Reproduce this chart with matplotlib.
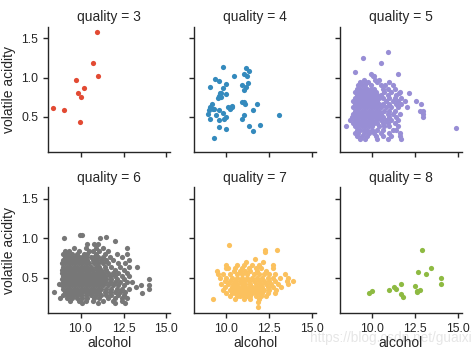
import matplotlib
matplotlib.use("Agg")
import matplotlib.pyplot as plt

plt.rcParams['font.family'] = ['Liberation Sans', 'DejaVu Sans']

qualities = [3, 4, 5, 6, 7, 8]
colors = ["#E24A33", "#348ABD", "#988ED5", "#777777", "#FBC15E", "#8EBA42"]

# quality 3
q3_alcohol = [10.93, 10.74, 11.03, 9.71, 10.21, 9.84, 10.0, 8.41, 9.03, 9.94]
q3_volatile = [1.58, 1.18, 1.015, 0.97, 0.87, 0.805, 0.755, 0.615, 0.585, 0.436]

# quality 4
q4_alcohol = [9.79, 11.14, 11.34, 10.47, 11.01, 11.18, 9.36, 9.55, 11.24, 9.07,
              9.98, 10.89, 11.14, 9.79, 11.01, 9.69, 9.98, 9.59, 9.49, 9.69,
              10.89, 11.09, 11.78, 9.17, 9.07, 10.08, 10.33, 10.23, 9.26, 9.01,
              9.55, 8.95, 11.53, 9.40, 9.98, 11.01, 13.04, 9.07, 9.59, 9.88,
              10.91, 9.55, 9.98, 11.34, 11.98, 11.53, 9.30, 10.2, 10.3, 9.2,
              9.6, 11.0, 9.8]
q4_volatile = [1.13, 1.117, 1.087, 1.015, 1.04, 1.015, 0.977, 0.955, 0.934, 0.88,
               0.913, 0.905, 0.883, 0.862, 0.84, 0.81, 0.786, 0.768, 0.735, 0.75,
               0.684, 0.67, 0.662, 0.67, 0.628, 0.624, 0.636, 0.607, 0.607, 0.585,
               0.594, 0.543, 0.585, 0.52, 0.50, 0.53, 0.52, 0.48, 0.458, 0.47,
               0.47, 0.372, 0.343, 0.385, 0.394, 0.32, 0.232, 0.615, 0.62, 0.60,
               0.80, 0.69, 0.55]

# quality 5: volatile acidity -> alcohol values read along that level
q5_rows = {
    1.33: [10.89],
    1.25: [9.48],
    1.18: [10.51],
    1.07: [9.0],
    1.04: [9.92, 11.49],
    1.02: [10.02, 10.1],
    0.97: [9.5, 10.15, 10.4],
    0.94: [9.3, 9.6, 9.75, 10.3, 11.0],
    0.90: [9.2, 9.4, 9.55, 9.9, 10.5, 10.75, 11.2],
    0.86: [9.1, 9.3, 9.5, 9.7, 9.9, 10.1, 10.6, 10.9, 11.3],
    0.82: [9.0, 9.2, 9.4, 9.6, 9.8, 10.0, 10.2, 10.7, 11.1, 11.6],
    0.80: [11.57, 12.15],
    0.78: [9.1, 9.3, 9.5, 9.7, 9.9, 10.1, 10.3, 10.5, 10.9, 11.4],
    0.74: [9.0, 9.2, 9.4, 9.6, 9.8, 10.0, 10.2, 10.4, 10.6, 11.0, 11.3, 11.7],
    0.70: [8.9, 9.1, 9.3, 9.5, 9.7, 9.9, 10.1, 10.3, 10.8, 11.2, 11.5, 11.9, 12.55],
    0.66: [9.0, 9.2, 9.4, 9.6, 9.8, 10.0, 10.2, 10.4, 10.6, 11.0, 11.4, 11.7, 12.85],
    0.62: [8.9, 9.1, 9.3, 9.5, 9.7, 9.9, 10.1, 10.3, 10.5, 10.8, 11.1, 11.5, 12.0],
    0.58: [9.0, 9.2, 9.4, 9.6, 9.8, 10.0, 10.2, 10.4, 10.7, 11.0, 11.3, 12.75, 12.95],
    0.54: [8.9, 9.1, 9.3, 9.5, 9.7, 9.9, 10.1, 10.3, 10.5, 10.9, 11.2, 11.6, 12.97],
    0.50: [8.8, 9.0, 9.2, 9.4, 9.6, 9.8, 10.0, 10.2, 10.4, 10.6, 11.0, 11.4, 12.97],
    0.46: [8.7, 9.0, 9.2, 9.4, 9.6, 9.8, 10.0, 10.2, 10.5, 10.8, 11.1, 11.5],
    0.42: [8.9, 9.1, 9.3, 9.5, 9.7, 9.9, 10.1, 10.3, 10.6, 10.9, 11.3],
    0.38: [8.47, 9.0, 9.2, 9.4, 9.6, 9.8, 10.0, 10.4, 10.7, 11.0, 11.5],
    0.36: [14.9],
    0.34: [9.1, 9.3, 9.5, 9.7, 10.0, 10.3, 10.6, 11.2, 11.4],
    0.30: [9.0, 9.2, 9.5, 9.8, 10.1, 10.5, 11.0, 11.6],
    0.26: [9.1, 9.4, 9.7, 10.2, 10.6, 11.1, 11.6],
    0.22: [9.3, 9.6, 10.3, 10.9, 11.7],
}

# quality 6
q6_rows = {
    1.04: [9.94, 10.1],
    1.02: [11.51],
    1.00: [9.03, 11.12],
    0.96: [12.0],
    0.92: [10.4, 10.8, 11.0],
    0.88: [9.6, 10.3, 10.9, 11.3, 12.7],
    0.84: [9.1, 9.3, 9.9, 10.5, 10.7, 11.1, 11.6],
    0.80: [9.0, 9.2, 9.5, 9.8, 10.2, 10.4, 10.9, 11.4, 12.1, 12.7],
    0.76: [9.1, 9.3, 9.5, 9.7, 9.9, 10.1, 10.3, 10.6, 10.8, 11.0, 11.3, 11.7, 12.4],
    0.72: [9.0, 9.2, 9.4, 9.6, 9.8, 10.0, 10.2, 10.4, 10.7, 10.9, 11.2, 11.5, 11.9, 12.8],
    0.68: [8.9, 9.1, 9.3, 9.5, 9.7, 9.9, 10.1, 10.3, 10.5, 10.8, 11.0, 11.3, 11.6, 12.2, 12.6],
    0.64: [9.0, 9.2, 9.4, 9.6, 9.8, 10.0, 10.2, 10.4, 10.6, 10.9, 11.1, 11.4, 11.8, 12.3, 12.8, 13.3],
    0.60: [8.9, 9.1, 9.3, 9.5, 9.7, 9.9, 10.1, 10.3, 10.5, 10.7, 11.0, 11.2, 11.5, 12.0, 12.5],
    0.56: [8.9, 9.1, 9.3, 9.5, 9.7, 9.9, 10.1, 10.3, 10.5, 10.7, 10.9, 11.1, 11.3, 11.6, 11.9, 12.2, 12.7],
    0.52: [9.0, 9.2, 9.4, 9.6, 9.8, 10.0, 10.2, 10.4, 10.6, 10.8, 11.0, 11.2, 11.4, 11.7, 12.0, 12.4, 12.8],
    0.48: [8.9, 9.1, 9.3, 9.5, 9.7, 9.9, 10.1, 10.3, 10.5, 10.7, 10.9, 11.1, 11.3, 11.5, 11.8, 12.1, 12.5, 14.0],
    0.44: [9.0, 9.2, 9.4, 9.6, 9.8, 10.0, 10.2, 10.4, 10.6, 10.8, 11.0, 11.2, 11.4, 11.7, 12.0, 12.3, 12.7, 13.0],
    0.42: [8.74],
    0.40: [8.9, 9.1, 9.3, 9.5, 9.7, 9.9, 10.1, 10.3, 10.5, 10.7, 10.9, 11.1, 11.3, 11.6, 11.9, 12.2, 12.5, 13.5, 14.0],
    0.38: [13.25],
    0.36: [9.0, 9.2, 9.4, 9.6, 9.8, 10.0, 10.2, 10.4, 10.6, 10.8, 11.0, 11.2, 11.5, 11.8, 12.1, 12.4, 12.8, 14.0],
    0.32: [8.45, 9.1, 9.3, 9.5, 9.7, 9.9, 10.1, 10.3, 10.5, 10.7, 10.9, 11.1, 11.4, 11.7, 12.0, 12.3, 12.6],
    0.30: [13.6],
    0.28: [9.0, 9.2, 9.4, 9.6, 9.8, 10.0, 10.3, 10.6, 10.9, 11.2, 11.5, 11.8, 12.2, 12.5],
    0.24: [8.8, 9.2, 9.5, 9.8, 10.1, 10.4, 10.8, 11.1, 11.6, 12.0, 12.4, 12.7],
    0.20: [9.4, 9.9, 10.3, 10.7, 11.3, 11.9, 12.4],
    0.17: [10.1, 11.0, 12.0, 12.6],
}

# quality 7
q7_rows = {
    0.91: [10.17],
    0.85: [12.27, 12.95],
    0.82: [12.27],
    0.74: [11.67],
    0.70: [11.14, 12.15],
    0.66: [10.0, 10.6, 11.0, 11.5, 11.9, 12.73],
    0.62: [9.95, 10.1, 10.5, 10.9, 11.3, 11.7, 12.0, 12.73],
    0.58: [9.45, 10.47, 10.8, 11.1, 11.4, 11.8, 12.3],
    0.54: [9.5, 9.8, 10.2, 10.6, 10.9, 11.2, 11.6, 11.9, 12.2, 12.5, 12.8, 13.4],
    0.50: [9.6, 10.0, 10.3, 10.6, 10.9, 11.2, 11.5, 11.8, 12.1, 12.4, 12.7, 13.1, 13.6],
    0.46: [9.9, 10.2, 10.5, 10.8, 11.0, 11.3, 11.6, 11.9, 12.2, 12.5, 12.8, 13.5, 13.9],
    0.42: [9.7, 10.1, 10.4, 10.6, 10.9, 11.1, 11.4, 11.7, 12.0, 12.3, 12.6, 13.0, 13.6],
    0.38: [9.9, 10.3, 10.5, 10.7, 10.9, 11.1, 11.3, 11.5, 11.7, 11.9, 12.1, 12.4, 12.7, 13.2],
    0.34: [9.8, 10.2, 10.4, 10.6, 10.8, 11.0, 11.2, 11.4, 11.6, 11.8, 12.0, 12.2, 12.5, 12.9],
    0.30: [10.0, 10.3, 10.5, 10.7, 10.9, 11.1, 11.3, 11.5, 11.7, 11.9, 12.1, 12.4, 12.8],
    0.26: [10.2, 10.6, 10.8, 11.0, 11.2, 11.4, 11.7, 12.0, 12.3],
    0.23: [9.2, 10.5, 11.0, 11.4, 11.9],
    0.19: [11.82],
    0.13: [11.82],
}

# quality 8
q8_alcohol = [12.89, 12.67, 13.1, 13.39, 13.99, 13.99, 12.5, 12.77, 12.58,
              11.69, 11.67, 11.8, 11.26, 11.41, 10.99, 9.79, 9.98, 12.6]
q8_volatile = [0.854, 0.564, 0.542, 0.615, 0.49, 0.417, 0.397, 0.346, 0.316,
               0.417, 0.295, 0.252, 0.38, 0.359, 0.346, 0.303, 0.325, 0.33]


def unpack(rows):
    xs, ys = [], []
    for y, row in rows.items():
        for x in row:
            xs.append(x)
            ys.append(y)
    return xs, ys


data = [
    (q3_alcohol, q3_volatile),
    (q4_alcohol, q4_volatile),
    unpack(q5_rows),
    unpack(q6_rows),
    unpack(q7_rows),
    (q8_alcohol, q8_volatile),
]

ink = "#262626"
fig, axes = plt.subplots(2, 3, figsize=(4.74, 3.54), dpi=100, sharex=True, sharey=True)
fig.subplots_adjust(left=0.101, right=0.975, bottom=0.116, top=0.924, wspace=0.19, hspace=0.28)

for ax, q, c, (x, y) in zip(axes.flat, qualities, colors, data):
    ax.scatter(x, y, s=14, color=c, linewidths=0)
    ax.set_title(f"quality = {q}", fontsize=10, color=ink, pad=4)
    ax.spines["top"].set_visible(False)
    ax.spines["right"].set_visible(False)
    for side in ["left", "bottom"]:
        ax.spines[side].set_color(ink)
        ax.spines[side].set_linewidth(1.0)
    ax.tick_params(length=3.5, width=1.0, labelsize=8.8, colors=ink)

axes[0, 0].set_xlim(8.1, 15.23)
axes[0, 0].set_ylim(0.05, 1.644)
axes[0, 0].set_xticks([10, 12.5, 15])
axes[0, 0].set_yticks([0.5, 1.0, 1.5])

for ax in axes[:, 0]:
    ax.set_ylabel("volatile acidity", fontsize=10, color=ink)
for ax in axes[1, :]:
    ax.set_xlabel("alcohol", fontsize=10, color=ink, labelpad=1)

fig.text(0.825, 0.045, "https://blog.csdn.net/guaixi", fontsize=9.8, color="#e6e6e6",
         ha="center", va="center", zorder=-1)

fig.savefig("out.png", dpi=100)
